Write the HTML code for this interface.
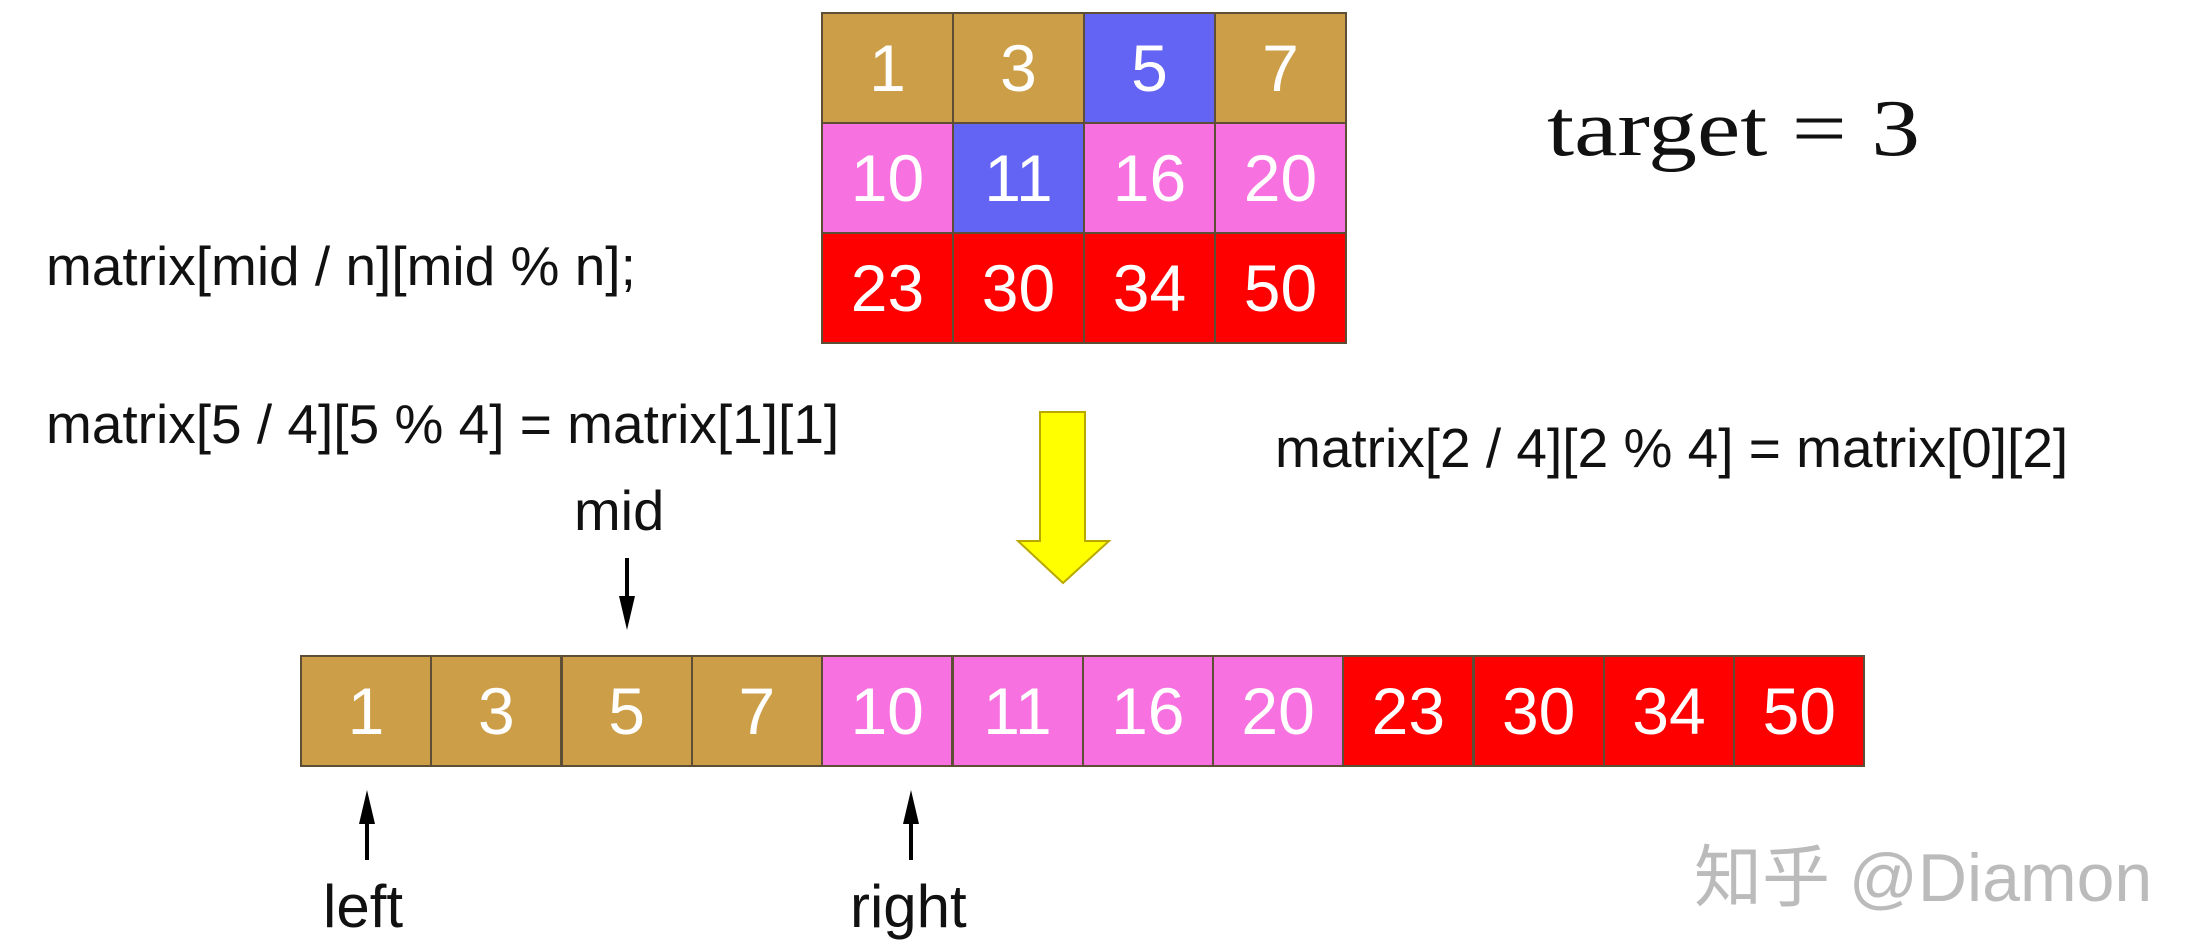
<!DOCTYPE html>
<html><head><meta charset="utf-8"><style>
body{margin:0;width:2205px;height:952px;background:#fff;position:relative;overflow:hidden;font-family:"Liberation Sans",sans-serif}
.c{position:absolute;box-sizing:border-box;border:2px solid #5e4e35;color:#fff;font-size:66px;display:flex;align-items:center;justify-content:center}
.g{background:#cc9e48}.p{background:#f871e0}.b{background:#6464f4}.r{background:#fe0000}
.t{position:absolute;white-space:nowrap;color:#111}
</style></head><body>
<div id="m"></div>
<div class="t" style="left:1547px;top:84px;font-family:'Liberation Serif',serif;font-size:80px;transform:scaleX(1.22);transform-origin:0 0">target = 3</div>
<div class="t" style="left:46px;top:234px;font-size:55px">matrix[mid / n][mid % n];</div>
<div class="t" style="left:46px;top:392px;font-size:55px">matrix[5 / 4][5 % 4] = matrix[1][1]</div>
<div class="t" style="left:1275px;top:416px;font-size:55px">matrix[2 / 4][2 % 4] = matrix[0][2]</div>
<div class="t" style="left:574px;top:478px;font-size:56px">mid</div>
<div class="t" style="left:323px;top:872px;font-size:60px">left</div>
<div class="t" style="left:850px;top:872px;font-size:60px">right</div>
<div class="t" style="left:1694px;top:822px;font-size:68px;color:#bbb;font-family:'Liberation Sans','Noto Sans CJK SC',sans-serif">知乎 @Diamon</div>
<svg width="2205" height="952" style="position:absolute;left:0;top:0">
<polygon points="1040,412 1085,412 1085,541 1109,541 1063,583 1018,541 1040,541" fill="#ffff00" stroke="#b8a800" stroke-width="2"/>
<line x1="627" y1="558" x2="627" y2="600" stroke="#000" stroke-width="4"/><polygon points="619,596 635,596 627,630" fill="#000"/>
<line x1="367" y1="820" x2="367" y2="860" stroke="#000" stroke-width="4"/><polygon points="359,824 375,824 367,790" fill="#000"/>
<line x1="911" y1="820" x2="911" y2="860" stroke="#000" stroke-width="4"/><polygon points="903,824 919,824 911,790" fill="#000"/>
</svg>
<script>
var m=[[1,'g'],[3,'g'],[5,'b'],[7,'g'],[10,'p'],[11,'b'],[16,'p'],[20,'p'],[23,'r'],[30,'r'],[34,'r'],[50,'r']];
var h='';
m.forEach(function(v,i){var r=Math.floor(i/4),c=i%4;
h+='<div class="c '+v[1]+'" style="left:'+(821+c*131)+'px;top:'+(12+r*110)+'px;width:133px;height:112px">'+v[0]+'</div>';});
var cl=['g','g','g','g','p','p','p','p','r','r','r','r'];
m.forEach(function(v,i){h+='<div class="c '+cl[i]+'" style="left:'+(300+i*130.3)+'px;top:655px;width:132px;height:112px">'+v[0]+'</div>';});
document.getElementById('m').innerHTML=h;
</script>
</body></html>
